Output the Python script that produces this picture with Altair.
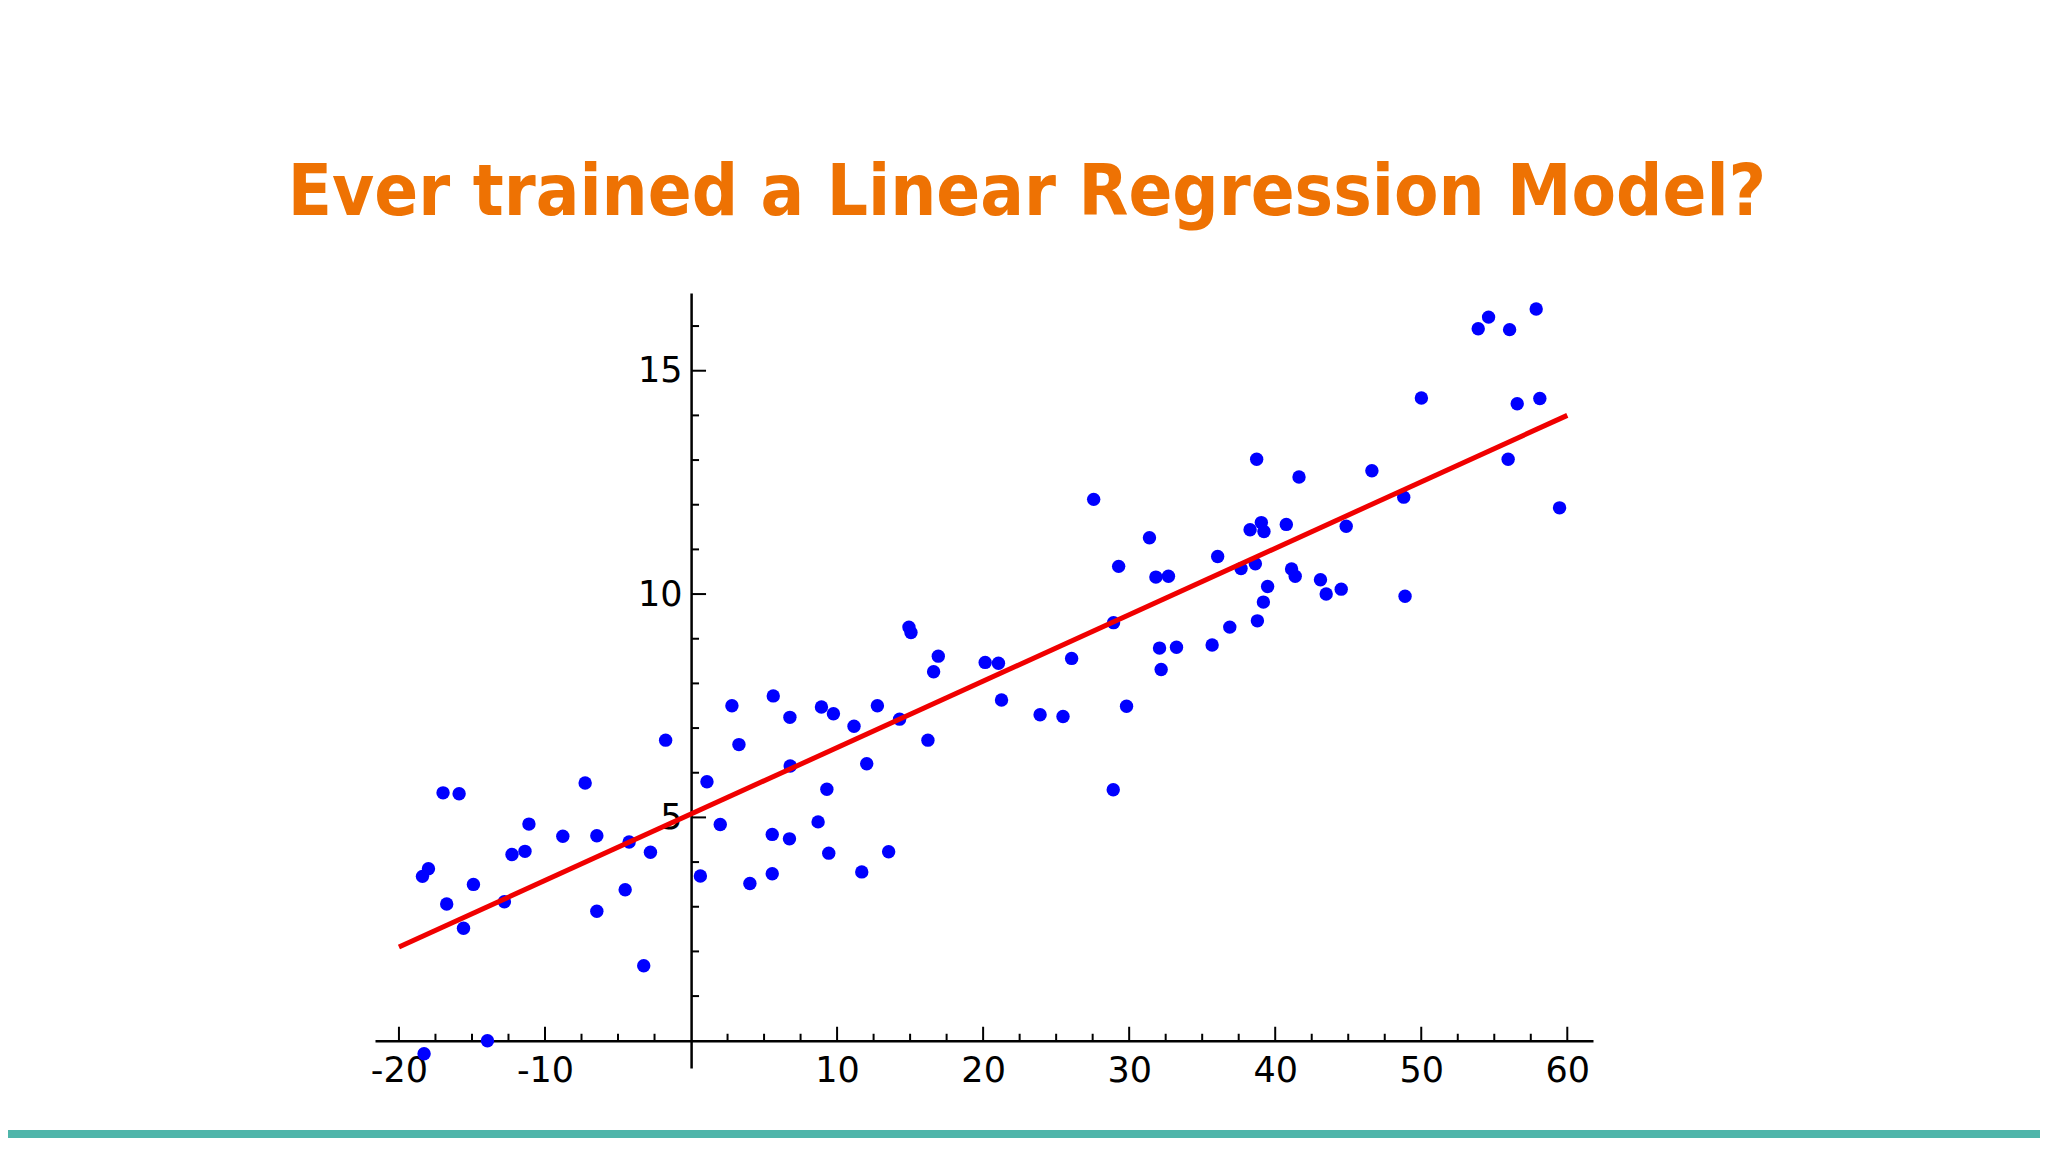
import altair as alt
import pandas as pd

# ---- data ----
x_vals = [-18.39, -17.98, -16.98, -15.88, -16.73, -14.90, -15.58, -13.94, -18.28, -12.78,
          -12.26, -11.37, -11.10, -8.78, -7.25, -6.45, -6.45, -4.51, -4.24, -2.78,
          -3.24, -1.74, 0.64, 1.09, 2.00, 2.80, 3.28, 4.03, 5.56, 5.56,
          5.63, 6.77, 6.79, 6.74, 8.70, 8.93, 9.30, 9.43, 9.75, 11.16,
          12.76, 14.28, 16.22, 12.03, 13.53, 11.69,
          14.92, 15.06, 16.93, 16.61, 20.14, 21.05, 21.26, 23.90, 25.47, 26.06,
          27.57, 28.93, 29.28, 29.82, 28.91, 31.39, 31.83, 32.69, 32.08, 33.24, 32.19,
          35.68, 36.89, 36.06, 37.66, 38.64, 38.28, 39.05, 39.23, 38.73, 40.76,
          41.63, 39.48, 39.19, 38.78, 41.12, 41.37, 43.10, 43.49, 44.52, 44.86,
          46.62, 48.80, 48.89, 50.01, 53.90, 54.61, 56.05, 57.87, 56.57, 58.12,
          55.95, 59.47]
y_vals = [3.68, 3.85, 5.55, 5.53, 3.06, 3.50, 2.52, 0.00, -0.29, 3.11,
          4.17, 4.24, 4.85, 4.58, 5.77, 4.59, 2.90, 3.38, 4.45, 4.22,
          1.68, 6.73, 3.69, 5.80, 4.84, 7.50, 6.63, 3.52, 4.62, 3.74,
          7.72, 7.24, 6.15, 4.52, 4.90, 7.47, 5.63, 4.20, 7.32, 7.04,
          7.50, 7.20, 6.73, 6.20, 4.23, 3.78,
          9.26, 9.14, 8.61, 8.26, 8.47, 8.45, 7.63, 7.30, 7.26, 8.56,
          12.12, 9.36, 10.62, 7.49, 5.62, 11.26, 10.38, 10.40, 8.79, 8.81, 8.31,
          8.86, 9.26, 10.84, 10.57, 10.68, 11.44, 11.60, 11.40, 13.02, 11.56,
          12.62, 10.17, 9.82, 9.40, 10.56, 10.40, 10.32, 10.00, 10.11, 11.52,
          12.76, 12.17, 9.95, 14.39, 15.94, 16.20, 15.92, 16.38, 14.26, 14.38,
          13.02, 11.93]

line_x = [-20, 60]
line_y = [2.10, 14.00]

x_major = [-20, -10, 10, 20, 30, 40, 50, 60]
x_minor = [-17.5, -15, -12.5, -7.5, -5, -2.5, 2.5, 5, 7.5, 12.5, 15, 17.5,
           22.5, 25, 27.5, 32.5, 35, 37.5, 42.5, 45, 47.5, 52.5, 55, 57.5]
y_major = [5, 10, 15]
y_minor = [1, 2, 3, 4, 6, 7, 8, 9, 11, 12, 13, 14, 16]

title_text = "Ever trained a Linear Regression Model?"

# ---- tables ----
pts = pd.DataFrame({"x": x_vals, "y": y_vals})
fit = pd.DataFrame({"x": line_x, "y": line_y})
xmaj = pd.DataFrame({"v": x_major})
xmin = pd.DataFrame({"v": x_minor})
ymaj = pd.DataFrame({"v": y_major})
ymin = pd.DataFrame({"v": y_minor})

W, H = 1218, 775
PAD_L, PAD_T, PAD_R, PAD_B = 367, 285, 447, 70

xscale = alt.Scale(domain=[-21.64, 61.76], nice=False, zero=False)
yscale = alt.Scale(domain=[-0.61, 16.74], nice=False, zero=False)

label_font = "DejaVu Sans"
xaxis = alt.Axis(values=x_major, offset=-27.3, grid=False, ticks=False,
                 domainColor="black", domainWidth=2.5, labelColor="black",
                 labelFont=label_font, labelFontSize=35, labelPadding=13,
                 labelExpr="toString(datum.value)", title=None)
yaxis = alt.Axis(values=y_major, offset=-316.1, grid=False, ticks=False,
                 domainColor="black", domainWidth=2.5, labelColor="black",
                 labelFont=label_font, labelFontSize=35, labelPadding=9,
                 labelExpr="toString(datum.value)", title=None)

scatter = alt.Chart(pts).mark_circle(color="#0000ff", opacity=1, size=180).encode(
    x=alt.X("x:Q", scale=xscale, axis=xaxis),
    y=alt.Y("y:Q", scale=yscale, axis=yaxis),
)

fitline = alt.Chart(fit).mark_line(color="#f00000", strokeWidth=5).encode(
    x=alt.X("x:Q", scale=xscale, axis=xaxis),
    y=alt.Y("y:Q", scale=yscale, axis=yaxis),
)

xt_major = alt.Chart(xmaj).mark_rule(color="black", strokeWidth=2, y2Offset=-14).encode(
    x=alt.X("v:Q", scale=xscale, axis=xaxis), y=alt.datum(0), y2=alt.datum(0))
xt_minor = alt.Chart(xmin).mark_rule(color="black", strokeWidth=2, y2Offset=-7).encode(
    x=alt.X("v:Q", scale=xscale, axis=xaxis), y=alt.datum(0), y2=alt.datum(0))
yt_major = alt.Chart(ymaj).mark_rule(color="black", strokeWidth=2, x2Offset=15).encode(
    y=alt.Y("v:Q", scale=yscale, axis=yaxis), x=alt.datum(0), x2=alt.datum(0))
yt_minor = alt.Chart(ymin).mark_rule(color="black", strokeWidth=2, x2Offset=8).encode(
    y=alt.Y("v:Q", scale=yscale, axis=yaxis), x=alt.datum(0), x2=alt.datum(0))

# decorative footer band of the slide
band = alt.Chart(pd.DataFrame({"a": [0]})).mark_rect(color="#4fb5aa").encode(
    x=alt.value(-PAD_L), x2=alt.value(W + PAD_R), y=alt.value(837), y2=alt.value(845))

TITLE_FS = 72
chart = alt.layer(band, xt_major, xt_minor, yt_major, yt_minor, scatter, fitline).properties(
    width=W, height=H,
    background="white",
    autosize=alt.AutoSizeParams(type="none"),
    padding={"left": PAD_L, "top": PAD_T, "right": PAD_R, "bottom": PAD_B},
    title=alt.TitleParams(title_text,
                          font="DejaVu Sans Condensed, DejaVu Sans, sans-serif",
                          fontWeight="bold", fontSize=TITLE_FS, color="#ee7203",
                          anchor="middle", frame="group", dx=43,
                          offset=76 - round(0.97 * TITLE_FS),
                          baseline="alphabetic"),
).configure_view(strokeWidth=0)

chart.save("out.html", embed_options={"renderer": "svg", "actions": False})
